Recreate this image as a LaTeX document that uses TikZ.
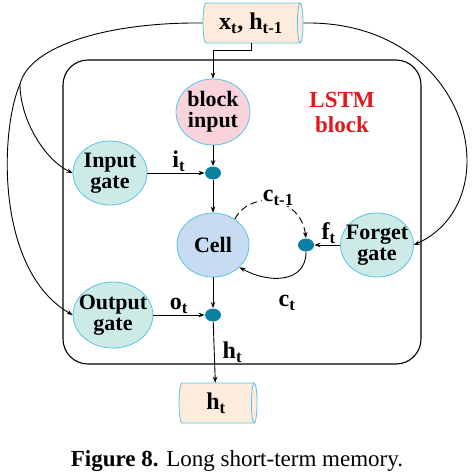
\documentclass[tikz,border=0pt]{standalone}
\usepackage{fontspec}
\setmainfont{Liberation Serif}
\usetikzlibrary{arrows.meta,shapes.geometric,calc}
\definecolor{rim}{HTML}{5BC3E3}
\definecolor{peach}{HTML}{FDEBDC}
\definecolor{pinkfill}{HTML}{F9D3DC}
\definecolor{gatefill}{HTML}{CCEBE7}
\definecolor{cellfill}{HTML}{C7DCF2}
\definecolor{dotfill}{HTML}{0B80A2}
\definecolor{lstmred}{HTML}{E3161C}
\newcommand{\vr}[2]{#1\textsubscript{#2}}

\begin{document}
\begin{tikzpicture}[x=1pt,y=-1pt,>={Stealth[length=6pt,width=4.5pt]},
    bubble/.style={ellipse,draw=rim,line width=0.8pt,align=center,inner xsep=-6pt,inner ysep=0pt,
      font=\fontsize{22}{21}\selectfont\bfseries},
    gate/.style={bubble,fill=gatefill,minimum width=74pt,minimum height=64pt},
    dot/.style={ellipse,fill=dotfill,minimum width=16pt,minimum height=13pt,inner sep=0pt},
    pipe/.style={cylinder,shape aspect=0.25,draw=rim,line width=0.8pt,cylinder uses custom fill,
      cylinder body fill=peach,cylinder end fill=peach,inner sep=1pt,
      font=\fontsize{24}{24}\selectfont\bfseries},
    lbl/.style={font=\fontsize{24}{24}\selectfont\bfseries,inner sep=1pt},
    every path/.style={line width=0.9pt}]
  \useasboundingbox (0,0) rectangle (474,472);

  % block frame
  \draw[line width=1.1pt,rounded corners=25pt] (63,60) rectangle (421,364);
  \node[font=\fontsize{23}{25}\selectfont\bfseries,text=lstmred,align=center] (title) at (342,112) {LSTM\\block};

  % nodes
  \node[pipe,minimum width=40pt,minimum height=100pt] (xin) at (251,23) {\vr{x}{t}, \vr{h}{t-1}};
  \node[bubble,fill=pinkfill,minimum width=74pt,minimum height=66pt] (blockin) at (213,112) {block\\input};
  \node[gate] (ingate) at (110,173) {Input\\gate};
  \node[gate,minimum width=78pt,minimum height=66pt] (outgate) at (113,315) {Output\\gate};
  \node[gate,minimum width=73pt] (forget) at (377,245) {Forget\\gate};
  \node[bubble,fill=cellfill,minimum width=72pt,minimum height=64pt] (cell) at (213,245) {Cell};
  \node[dot] (d1) at (213,173) {};
  \node[dot] (d2) at (306,245) {};
  \node[dot] (d3) at (213,315) {};
  \node[pipe,minimum width=40pt,minimum height=78pt] (hout) at (216,403) {\vr{h}{t}};

  % input lines
  \coordinate (split) at (20,84);
  \draw (xin.west) .. controls (110,22) and (30,45) .. (split);
  \draw[->] (split) .. controls (20,120) and (45,160) .. (ingate.west);
  \draw[->] (split) .. controls (0,130) and (-5,270) .. (outgate.west);
  \draw[->] (xin.east) .. controls (470,20) and (512,200) .. (forget.east);
  \draw[->] (xin.south) -- ++(0,7) -| (blockin.north);

  % gates
  \path[->] (blockin) edge (d1);
  \path[->] (ingate) edge node[lbl,above,pos=0.55]{\vr{i}{t}} (d1);
  \path[->] (d1) edge (cell);
  \path[->] (forget) edge node[lbl,above,pos=0.45]{\vr{f}{t}} (d2);
  \path[->] (cell) edge (d3);
  \path[->] (outgate) edge node[lbl,above,pos=0.5]{\vr{o}{t}} (d3);
  \path[->] (d3) edge node[lbl,right,inner sep=8pt]{\vr{h}{t}} (hout);

  % cell state loop
  \draw[->,dashed,dash pattern=on 7pt off 4pt] (cell.50) .. controls (250,190) and (300,195) ..
    node[lbl,fill=white,pos=0.55,yshift=5pt]{\vr{c}{t-1}} (d2.north);
  \draw[->] (d2.south) to[out=-90,in=-30,looseness=1.2] (cell.-40);
  \node[lbl] (ct) at (287,303) {\vr{c}{t}};

  % caption
  \node[font=\fontsize{23}{23}\selectfont] (caption) at (237,461) {\textbf{Figure 8.} Long short-term memory.};
\end{tikzpicture}
\end{document}
